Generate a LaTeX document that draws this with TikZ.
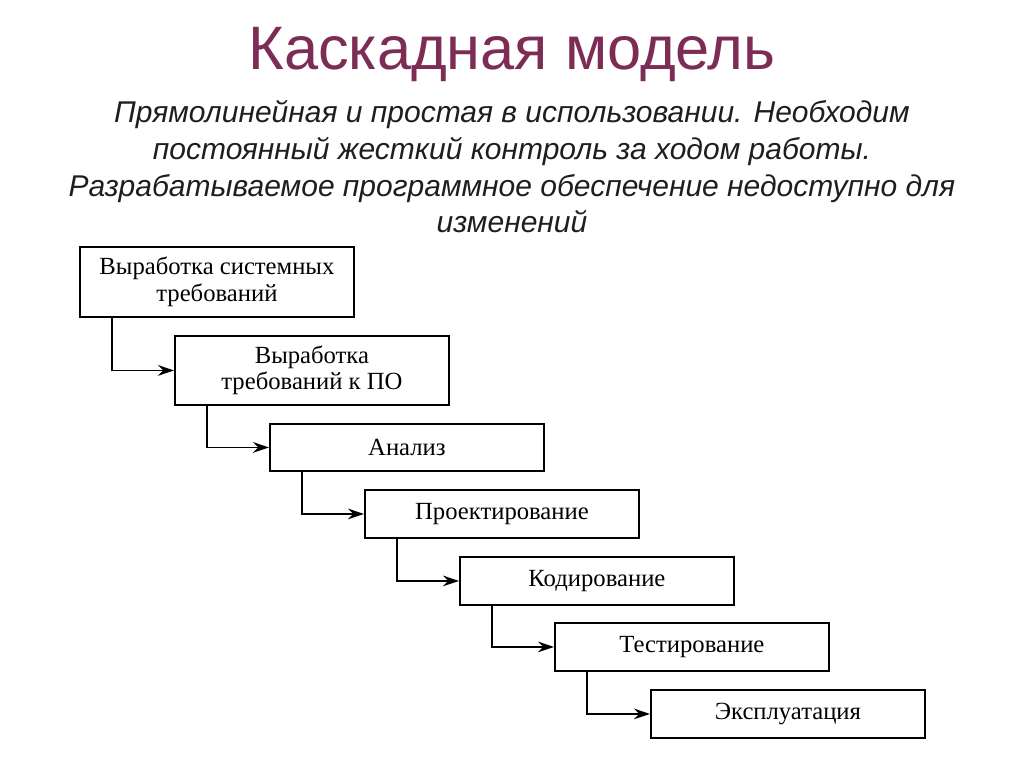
\documentclass[tikz,border=0pt]{standalone}
\usepackage{fontspec}
\setmainfont{Liberation Serif}
\newfontfamily\hdr{Liberation Sans}
\usetikzlibrary{arrows.meta}
\definecolor{ttl}{RGB}{125,45,85}
\definecolor{sub}{RGB}{30,30,30}
\begin{document}
\begin{tikzpicture}[x=0.75pt,y=-0.75pt,
  stage/.style={draw,line width=1.4pt,minimum width=274*0.75pt,anchor=north west,font=\fontsize{18.5}{20}\selectfont,align=center,inner sep=0pt},
  conn/.style={line width=1.2pt,-{Stealth[length=12pt,width=8pt]}}]
\useasboundingbox (0,0) rectangle (1024,767);
\node[text=ttl,font=\hdr\fontsize{46}{50}\selectfont] (t) at (512,55) {Каскадная модель};
\node[text=sub,font=\hdr\itshape\fontsize{22.5}{27.5}\selectfont,align=center,anchor=north] (s) at (512,96)
 {Прямолинейная и простая в использовании. Необходим\\постоянный жесткий контроль за ходом работы.\\Разрабатываемое программное обеспечение недоступно для\\изменений};
\node[stage,minimum height=70*0.75pt] (b1) at (79,246) {Выработка системных\\требований};
\node[stage,minimum height=69*0.75pt] (b2) at (174,335) {Выработка\\требований к ПО};
\node[stage,minimum height=47*0.75pt] (b3) at (269,423) {Анализ};
\node[stage,minimum height=48*0.75pt] (b4) at (364,489) {Проектирование};
\node[stage,minimum height=48*0.75pt] (b5) at (459,556) {Кодирование};
\node[stage,minimum height=48*0.75pt] (b6) at (554,622) {Тестирование};
\node[stage,minimum height=48*0.75pt] (b7) at (650,689) {Эксплуатация};
\foreach \a/\b in {b1/b2,b2/b3,b3/b4,b4/b5,b5/b6,b6/b7}{
  \draw[conn] ([xshift=33*0.75pt]\a.south west) |- (\b.west);
}
\end{tikzpicture}
\end{document}
